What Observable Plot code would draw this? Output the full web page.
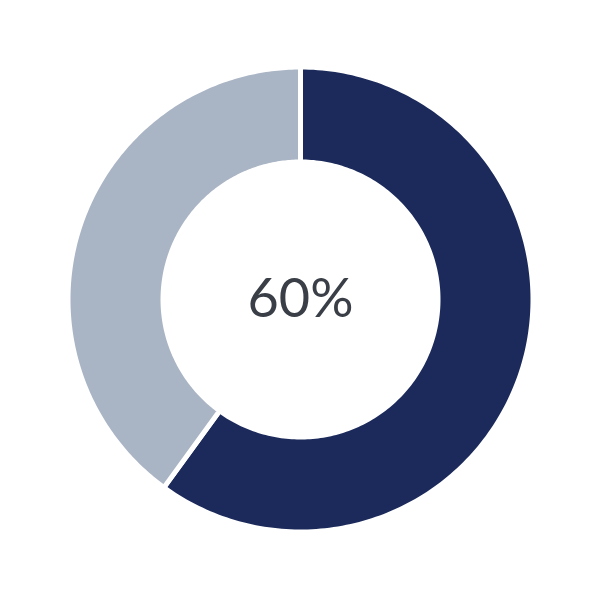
<!DOCTYPE html>
<html><head><meta charset="utf-8">
<script src="https://cdn.jsdelivr.net/npm/d3@7"></script>
<script src="https://cdn.jsdelivr.net/npm/@observablehq/plot@0.6"></script>
<style>body{margin:0;background:#fff;}</style>
</head><body><div id="chart"></div>
<script>
const categories = ["A", "B"];
const values = [60, 40];
const colors = ["#1b2a5b", "#a9b4c4"];
const centerLabel = "60%";

const outerR = 232.5, innerR = 137.5;
const pie = d3.pie().sort(null).value((d, i) => values[i])(categories);
const pts = [];
pie.forEach((s, i) => {
  const n = 200;
  const ring = [];
  for (let k = 0; k <= n; k++) {
    const a = s.startAngle + (s.endAngle - s.startAngle) * k / n;
    ring.push({a, r: outerR});
  }
  for (let k = n; k >= 0; k--) {
    const a = s.startAngle + (s.endAngle - s.startAngle) * k / n;
    ring.push({a, r: innerR});
  }
  ring.push(ring[0]);
  ring.forEach(p => pts.push({cat: categories[i], x: p.r * Math.sin(p.a), y: -p.r * Math.cos(p.a)}));
});

const chart = Plot.plot({
  width: 600, height: 599, margin: 0,
  x: {domain: [-300, 300], range: [0, 600], axis: null},
  y: {domain: [-299, 300], range: [0, 599], axis: null},
  color: {domain: categories, range: colors},
  marks: [
    Plot.line(pts, {x: "x", y: "y", z: "cat", fill: "cat", stroke: "white", strokeWidth: 5, curve: "linear"}),
    Plot.text([centerLabel], {x: () => 0, y: () => 0, text: d => d, fontSize: 54, fontFamily: "Lato", fill: "#3a3f47"})
  ]
});
document.getElementById("chart").append(chart);
</script>
</body></html>
